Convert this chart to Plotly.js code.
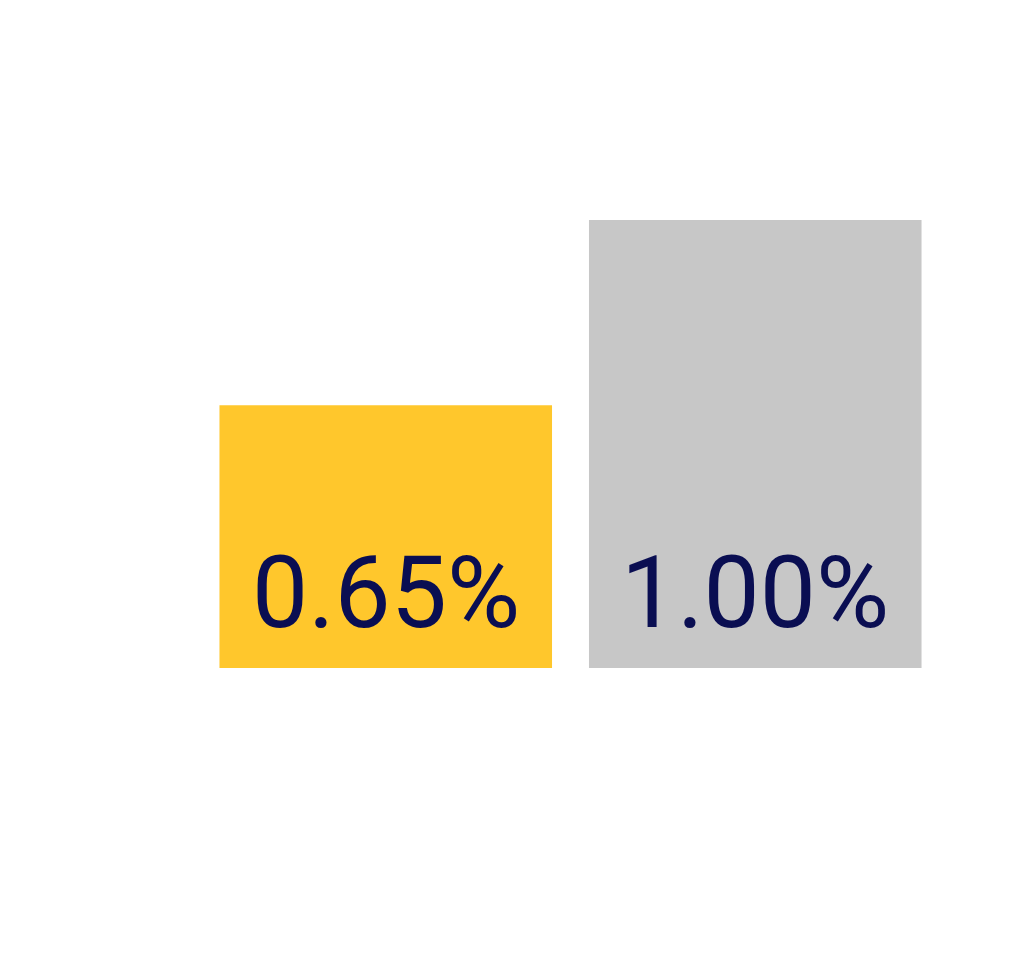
<!DOCTYPE html>
<html>
<head>
<meta charset="utf-8">
<script src="https://cdn.plot.ly/plotly-3.0.1.min.js"></script>
<style>
  body { margin: 0; background: #fff; }
  #chart { width: 1032px; height: 955px; }
</style>
</head>
<body>
<div id="chart"></div>
<script>
'use strict'

// data
const categories = ['A', 'B'];
const values = [0.65, 1.00];
const labels = ['0.65%', '1.00%'];
const barColors = ['#ffc72c', '#c7c7c7'];

// axis window: the bars do not start at zero in the original
const yMin = 0.153,
    yMax = 1.227;

const trace = {
    x: categories,
    y: values,
    type: 'bar',
    marker: { color: barColors },
    hoverinfo: 'none'
};

// value labels sit near the foot of each bar
const notes = categories.map(function (c, i) {
    return {
        x: c,
        y: yMin,
        text: labels[i],
        showarrow: false,
        xanchor: 'center',
        yanchor: 'bottom',
        yshift: 15,
        font: { family: 'Roboto, "Liberation Sans", Arial, sans-serif', size: 100, color: '#0a0e52' }
    };
});

const layout = {
    width: 1032,
    height: 955,
    margin: { l: 201, r: 92, t: 100, b: 287 },
    paper_bgcolor: '#ffffff',
    plot_bgcolor: '#ffffff',
    bargap: 0.1,
    showlegend: false,
    xaxis: { range: [-0.5, 1.5], visible: false, fixedrange: true },
    yaxis: { range: [yMin, yMax], visible: false, fixedrange: true },
    annotations: notes
};

Plotly.newPlot('chart', [trace], layout, { displayModeBar: false, staticPlot: true });
</script>
</body>
</html>
